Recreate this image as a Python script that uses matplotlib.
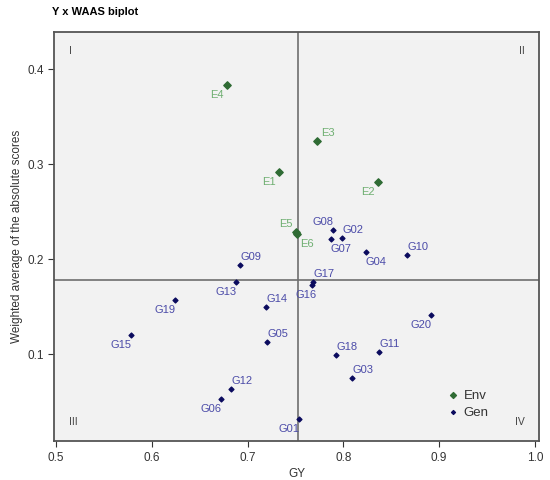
#!/usr/bin/env python3
"""Y x WAAS biplot: GY vs weighted average of absolute scores."""
import matplotlib
matplotlib.use('Agg')
import matplotlib.pyplot as plt

plt.rcParams['font.family'] = ['Liberation Sans', 'DejaVu Sans']

C_ENV = '#2F6B34'       # env marker
C_ENV_TXT = '#6FAF72'   # env label
C_GEN = '#0B0B5E'       # gen marker
C_GEN_TXT = '#4B4BA8'   # gen label

env_names = ['E1', 'E2', 'E3', 'E4', 'E5', 'E6']
env_gy = [0.7323, 0.8360, 0.7726, 0.6785, 0.7503, 0.7514]
env_waas = [0.2920, 0.2810, 0.3246, 0.3830, 0.2289, 0.2272]

gen_names = ['G01', 'G02', 'G03', 'G04', 'G05', 'G06', 'G07', 'G08', 'G09', 'G10',
             'G11', 'G12', 'G13', 'G14', 'G15', 'G16', 'G17', 'G18', 'G19', 'G20']
gen_gy = [0.7534, 0.7983, 0.8090, 0.8236, 0.7201, 0.6722, 0.7875, 0.7893, 0.6920, 0.8663,
          0.8372, 0.6830, 0.6875, 0.7190, 0.5788, 0.7670, 0.7684, 0.7927, 0.6243, 0.8917]
gen_waas = [0.0320, 0.2226, 0.0748, 0.2073, 0.1133, 0.0533, 0.2210, 0.2310, 0.1939, 0.2041,
            0.1024, 0.0635, 0.1763, 0.1497, 0.1203, 0.1732, 0.1767, 0.0993, 0.1574, 0.1413]

mean_gy = 0.7525
mean_waas = 0.1784

# label side: (dx, dy) in pixels
UL, UR, LL, LR = (-10, 8), (11, 8), (-10, -10), (10, -10)
env_off = {'E1': LL, 'E2': LL, 'E3': UR, 'E4': LL, 'E5': UL, 'E6': LR}
gen_off = {'G01': LL, 'G02': UR, 'G03': UR, 'G04': LR, 'G05': UR, 'G06': LL, 'G07': LR,
           'G08': UL, 'G09': UR, 'G10': UR, 'G11': UR, 'G12': UR, 'G13': LL, 'G14': UR,
           'G15': LL, 'G16': (-6, -10), 'G17': UR, 'G18': UR, 'G19': LL, 'G20': LL}

fig = plt.figure(figsize=(5.5, 4.8), dpi=100)
ax = fig.add_axes([0.099, 0.081, 0.881, 0.852])
ax.set_facecolor('#F2F2F2')

ax.axvline(mean_gy, color='#6E6E6E', linewidth=1.2, zorder=1)
ax.axhline(mean_waas, color='#6E6E6E', linewidth=1.2, zorder=1)

ax.scatter(env_gy, env_waas, marker='D', s=14, color=C_ENV, zorder=3, label='Env')
ax.scatter(gen_gy, gen_waas, marker='D', s=6, color=C_GEN, zorder=3, label='Gen')

for n, x, y in zip(env_names, env_gy, env_waas):
    ax.annotate(n, (x, y), xytext=env_off[n], textcoords='offset pixels',
                ha='center', va='center', fontsize=8, color=C_ENV_TXT)
for n, x, y in zip(gen_names, gen_gy, gen_waas):
    ax.annotate(n, (x, y), xytext=gen_off[n], textcoords='offset pixels',
                ha='center', va='center', fontsize=8, color=C_GEN_TXT)

for txt, x, y, ha, va in [('I', 0.03, 0.965, 'left', 'top'), ('II', 0.97, 0.965, 'right', 'top'),
                          ('III', 0.03, 0.035, 'left', 'bottom'), ('IV', 0.97, 0.035, 'right', 'bottom')]:
    ax.text(x, y, txt, transform=ax.transAxes, ha=ha, va=va, fontsize=7.5, color='#444444')

ax.set_xlim(0.4984, 1.0042)
ax.set_ylim(0.0088, 0.439)
ax.set_xticks([0.5, 0.6, 0.7, 0.8, 0.9, 1.0])
ax.set_xticklabels(['0.5', '0.6', '0.7', '0.8', '0.9', '1.0'])
ax.set_yticks([0.1, 0.2, 0.3, 0.4])
ax.tick_params(labelsize=8.5, colors='#333333', length=4, width=0.8)
for s in ax.spines.values():
    s.set_color('#555555')
    s.set_linewidth(1.3)

ax.set_xlabel('GY', fontsize=8.5, color='#333333', labelpad=3)
ax.set_ylabel('Weighted average of the absolute scores', fontsize=8.5, color='#333333', labelpad=3)
fig.text(0.095, 0.975, 'Y x WAAS biplot', fontsize=8, fontweight='bold', ha='left', va='center')

leg = ax.legend(loc='upper left', bbox_to_anchor=(0.782, 0.155), frameon=False, fontsize=9.5,
                handletextpad=0.2, markerscale=0.8, labelspacing=0.35, handlelength=1.2)
for t in leg.get_texts():
    t.set_color('#333333')

fig.savefig('out.png', dpi=100)
plt.close(fig)
